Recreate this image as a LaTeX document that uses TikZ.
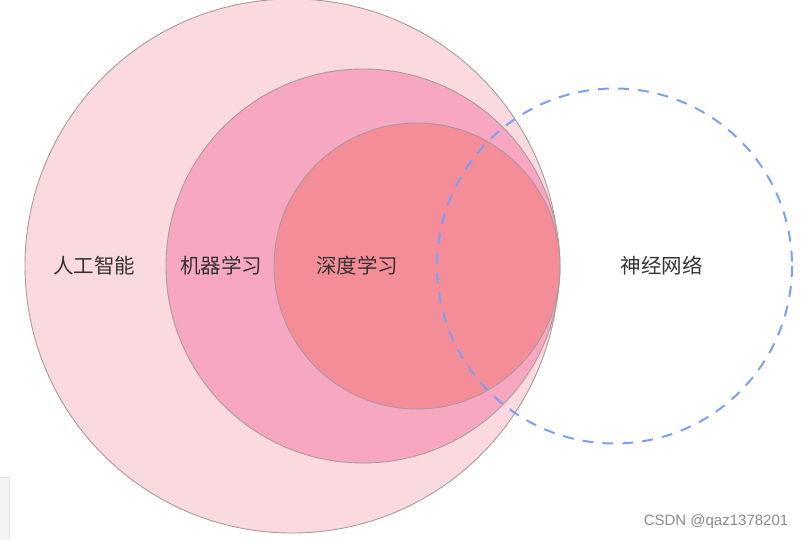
\documentclass[tikz,border=0pt]{standalone}
\usepackage{fontspec}
\setmainfont{Liberation Sans}
\newfontfamily\cjk{Noto Sans CJK SC}
\definecolor{aifill}{HTML}{FADADF}
\definecolor{mlfill}{HTML}{F8A7C3}
\definecolor{dlfill}{HTML}{F58D99}
\definecolor{ringline}{HTML}{A89A9A}
\definecolor{nnblue}{HTML}{7C9EF5}
\definecolor{labeltext}{HTML}{333333}
\definecolor{wmark}{HTML}{8A8A8A}
\definecolor{sidebar}{HTML}{F3F4F6}
\definecolor{sideedge}{HTML}{E2E4E8}
\begin{document}
\begin{tikzpicture}[x=1pt,y=-1pt,
  ring/.style={draw=ringline, line width=0.9pt},
  lbl/.style={font=\cjk\fontsize{20.5}{24}\selectfont, text=labeltext, inner sep=0pt},
  nnring/.style={draw=nnblue, line width=2pt, dash pattern=on 11pt off 9pt}]
\useasboundingbox (0,0) rectangle (810,540);
% faint side bar at lower left
\fill[sidebar] (0,477) rectangle (9,540);
\draw[sideedge, line width=0.8pt] (0,477) -- (9,477) -- (9,540);
% nested circles
\draw[ring, fill=aifill] (292,266) circle[radius=267];
\draw[ring, fill=mlfill] (363,266) circle[radius=197];
\draw[ring, fill=dlfill] (417,266) circle[radius=143];
% neural network dashed circle
\draw[nnring] (614.5,266) circle[radius=177.5];
% labels
\node[lbl] (ai) at (94,266) {人工智能};
\node[lbl] (ml) at (221,266) {机器学习};
\node[lbl] (dl) at (357,266) {深度学习};
\node[lbl] (nn) at (661.5,266) {神经网络};
% watermark
\node[font=\fontsize{15}{18}\selectfont, text=wmark, inner sep=0pt] (wm) at (716,522) {CSDN @qaz1378201};
\end{tikzpicture}
\end{document}
